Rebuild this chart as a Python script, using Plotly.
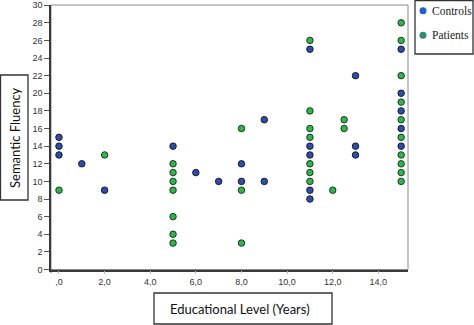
import plotly.graph_objects as go

# Educational level (years) vs. semantic fluency score
controls_years = [0, 0, 0, 1, 2, 5, 6, 7, 8, 8, 9, 9,
                  11, 11, 11, 11, 11, 13, 13, 13, 15, 15, 15, 15, 15]
controls_fluency = [15, 14, 13, 12, 9, 14, 11, 10, 12, 10, 17, 10,
                    25, 14, 13, 9, 8, 22, 14, 13, 25, 20, 18, 16, 14]

patients_years = [0, 2, 5, 5, 5, 5, 5, 5, 5, 8, 8, 8,
                  11, 11, 11, 11, 11, 11, 11, 12, 12.5, 12.5,
                  15, 15, 15, 15, 15, 15, 15, 15, 15, 15]
patients_fluency = [9, 13, 12, 11, 10, 9, 6, 4, 3, 16, 9, 3,
                    26, 18, 16, 15, 12, 11, 10, 9, 17, 16,
                    28, 26, 22, 19, 17, 15, 13, 12, 11, 10]

group_names = ["Controls", "Patients"]
x_tick_vals = [0, 2, 4, 6, 8, 10, 12, 14]
x_tick_text = [",0", "2,0", "4,0", "6,0", "8,0", "10,0", "12,0", "14,0"]
y_tick_vals = list(range(0, 31, 2))

W, H = 474, 325


def fx(p):
    return p / W


def fy(p):
    return 1 - p / H


# plot frame in pixels
L, R, T, B = 51, 408, 5, 269.5

fig = go.Figure()

fig.add_trace(go.Scatter(
    x=controls_years, y=controls_fluency, mode="markers", showlegend=False,
    marker=dict(size=6.5, color="#2f4ea3", line=dict(color="#15193a", width=1)),
))
fig.add_trace(go.Scatter(
    x=patients_years, y=patients_fluency, mode="markers", showlegend=False,
    marker=dict(size=6.5, color="#33b24f", line=dict(color="#163d1c", width=1)),
))

# hand-drawn legend on its own small axes
legend_colors = ["#1f5fc6", "#2e8b6c"]
leg_L, leg_R, leg_T, leg_B = 415, 473, 0, 54
row_y = [10.7, 35.3]
for name, col, ry in zip(group_names, legend_colors, row_y):
    fig.add_trace(go.Scatter(
        x=[(423 - leg_L) / (leg_R - leg_L)], y=[1 - ry / (leg_B - leg_T)],
        xaxis="x2", yaxis="y2", mode="markers", showlegend=False,
        marker=dict(size=7, color=col), hoverinfo="skip",
    ))
    fig.add_annotation(
        x=fx(430), y=fy(ry), xref="paper", yref="paper", text=name,
        showarrow=False, xanchor="left", yanchor="middle",
        font=dict(family="Liberation Serif", size=11.5, color="#222"),
    )

shapes = [
    # light frame around plotting area
    dict(type="rect", xref="paper", yref="paper",
         x0=fx(L), x1=fx(R), y0=fy(B), y1=fy(T),
         line=dict(color="#8a8a8a", width=1), layer="below"),
    # short extension of the y axis below the x axis
    dict(type="line", xref="paper", yref="paper",
         x0=fx(L), x1=fx(L), y0=fy(B), y1=fy(B + 3),
         line=dict(color="#3a3a3a", width=1.6)),
    # legend box
    dict(type="rect", xref="paper", yref="paper",
         x0=fx(leg_L), x1=fx(leg_R), y0=fy(leg_B), y1=fy(leg_T + 0.5),
         line=dict(color="#333", width=1.3)),
    # axis title boxes
    dict(type="rect", xref="paper", yref="paper",
         x0=fx(0.5), x1=fx(28), y0=fy(200), y1=fy(75),
         line=dict(color="#333", width=1.3)),
    dict(type="rect", xref="paper", yref="paper",
         x0=fx(154), x1=fx(332), y0=fy(324), y1=fy(293),
         line=dict(color="#333", width=1.3)),
]

fig.add_annotation(
    x=fx(14.5), y=fy(137.5), xref="paper", yref="paper", text="Semantic Fluency",
    textangle=-90, showarrow=False, xanchor="center", yanchor="middle",
    font=dict(family="Lato", size=13, color="#111"),
)
fig.add_annotation(
    x=fx(240), y=fy(308.5), xref="paper", yref="paper",
    text="Educational Level (Years)", showarrow=False,
    xanchor="center", yanchor="middle",
    font=dict(family="Lato", size=13, color="#111"),
)

fig.update_layout(
    width=W, height=H, margin=dict(l=0, r=0, t=0, b=0, autoexpand=False),
    paper_bgcolor="white", plot_bgcolor="white",
    shapes=shapes,
    xaxis=dict(
        domain=[fx(L), fx(R)], range=[-0.35, 15.3], automargin=False,
        tickvals=x_tick_vals, ticktext=x_tick_text,
        showgrid=False, zeroline=False, showline=True,
        linecolor="#3a3a3a", linewidth=1.6,
        ticks="outside", ticklen=3, tickcolor="#bbb",
        tickfont=dict(family="Liberation Sans", size=9, color="#333"),
    ),
    yaxis=dict(
        domain=[fy(B), fy(T)], range=[0, 30.02], automargin=False,
        tickvals=y_tick_vals, ticklabeloverflow="allow",
        showgrid=False, zeroline=False, showline=True,
        linecolor="#3a3a3a", linewidth=1.6,
        ticks="outside", ticklen=5, tickcolor="#555",
        tickfont=dict(family="Liberation Sans", size=9, color="#333"),
    ),
    xaxis2=dict(domain=[fx(leg_L), fx(leg_R)], range=[0, 1], anchor="y2",
                visible=False, fixedrange=True),
    yaxis2=dict(domain=[fy(leg_B), fy(leg_T)], range=[0, 1], anchor="x2",
                visible=False, fixedrange=True),
)

fig.write_html("out.html")
